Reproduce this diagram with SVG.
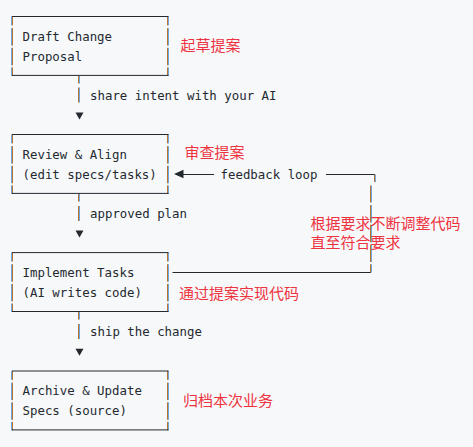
<svg xmlns="http://www.w3.org/2000/svg" width="473" height="447" viewBox="0 0 473 447">
<style>
.bg{fill:#f6f8fa}
.h{stroke:#24292f;stroke-width:1;fill:none}
.o{stroke:#b8732d;stroke-width:1;fill:none}
.b{stroke:#6ea8e2;stroke-width:1;fill:none}
.t{font-family:"DejaVu Sans Mono","Liberation Mono",monospace;font-size:12.4px;fill:#24292f}
.zh{font-family:"Noto Sans CJK SC","Noto Sans",sans-serif;font-size:15px;fill:#ee3340}
.ar{fill:#24292f}
</style>
<defs>
<g id="sideL">
<path class="b" d="M11.5 0v9M11.5 11.7v17.5M11.5 31.4v17.5M11.5 51v8.5"/>
<path class="o" d="M12.5 0v9M12.5 11.7v17.5M12.5 31.4v17.5M12.5 51v8.5"/>
</g>
<g id="sideR">
<path class="o" d="M167.5 0v9M167.5 11.7v17.5M167.5 31.4v17.5M167.5 51v8.5"/>
<path class="b" d="M168.5 0v9M168.5 11.7v17.5M168.5 31.4v17.5M168.5 51v8.5"/>
</g>
<g id="box">
<use href="#sideL"/>
<use href="#sideR"/>
<path class="h" d="M12 0.1H168.5M12 59H168.5"/>
</g>
</defs>
<rect class="bg" x="0" y="0" width="473" height="447"/>

<g id="node-draft">
<use href="#box" transform="translate(0,16.4)"/>
<text class="t" x="22.5" y="40.9">Draft Change</text>
<text class="t" x="22.5" y="60.6">Proposal</text>
<text class="zh" x="180.5" y="50.5">起草提案</text>
</g>

<g id="node-review">
<use href="#box" transform="translate(0,134.4)"/>
<text class="t" x="22.5" y="159">Review &amp; Align</text>
<text class="t" x="22.5" y="178.6">(edit specs/tasks)</text>
<text class="zh" x="184.5" y="158">审查提案</text>
</g>

<g id="node-implement">
<use href="#box" transform="translate(0,252.5)"/>
<text class="t" x="22.5" y="277">Implement Tasks</text>
<text class="t" x="22.5" y="296.7">(AI writes code)</text>
<text class="zh" x="179" y="298.5">通过提案实现代码</text>
</g>

<g id="node-archive">
<use href="#box" transform="translate(0,370.9)"/>
<text class="t" x="22.5" y="395.1">Archive &amp; Update</text>
<text class="t" x="22.5" y="414.8">Specs (source)</text>
<text class="zh" x="183" y="405.5">归档本次业务</text>
</g>

<g id="connectors">
<path class="o" d="M78.5 76v7.5M78.5 87.5v15"/>
<path class="b" d="M79.5 76v7.5M79.5 87.5v15"/>
<polygon class="ar" points="75.5,112.5 83.5,112.5 79.5,119.5"/>
<text class="t" x="90" y="99.9">share intent with your AI</text>
<path class="o" d="M78.5 194v7.5M78.5 206v15"/>
<path class="b" d="M79.5 194v7.5M79.5 206v15"/>
<polygon class="ar" points="75.5,230.6 83.5,230.6 79.5,237.6"/>
<text class="t" x="90" y="218">approved plan</text>
<path class="o" d="M78.5 312v7.5M78.5 324v15"/>
<path class="b" d="M79.5 312v7.5M79.5 324v15"/>
<polygon class="ar" points="75.5,348.7 83.5,348.7 79.5,355.7"/>
<text class="t" x="90" y="336.1">ship the change</text>
<path class="h" d="M172.5 272.5H371"/>
<path class="o" d="M370.5 185.5v17M370.5 205v17.5M370.5 224.8v17.5M370.5 244.5v17.5M370.5 264.2v8.3"/>
<path class="b" d="M371.5 185.5v17M371.5 205v17.5M371.5 224.8v17.5M371.5 244.5v17.5M371.5 264.2v8.3"/>
<path class="h" d="M326 174.5H375"/>
<path class="o" d="M374.5 174.5v7.5"/>
<path class="b" d="M375.5 174.5v7.5"/>
<path class="h" d="M182 174.5H214"/>
<polygon class="ar" points="174,174 183.5,169.8 183.5,178.2"/>
<text class="t" x="220.5" y="178.6">feedback loop</text>
</g>

<g id="loop-note">
<text class="zh" x="310.5" y="229">根据要求不断调整代码<tspan x="310.5" y="247.5">直至符合要求</tspan></text>
</g>
</svg>
